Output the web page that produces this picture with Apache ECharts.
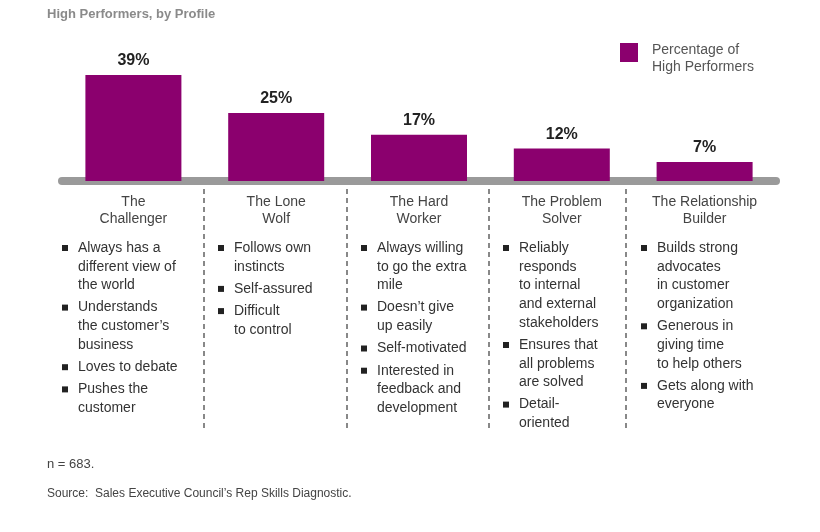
<!DOCTYPE html>
<html><head><meta charset="utf-8">
<script src="https://cdn.jsdelivr.net/npm/echarts@6/dist/echarts.min.js"></script>
<style>html,body{margin:0;padding:0;background:#fff}#c{width:820px;height:532px}</style>
</head><body><div id="c"></div>
<script>
const categories = ['The\nChallenger','The Lone\nWolf','The Hard\nWorker','The Problem\nSolver','The Relationship\nBuilder'];
const values = [39,25,17,12,7];
const bullets = [
  [['Always has a','different view of','the world'],['Understands','the customer’s','business'],['Loves to debate'],['Pushes the','customer']],
  [['Follows own','instincts'],['Self-assured'],['Difficult','to control']],
  [['Always willing','to go the extra','mile'],['Doesn’t give','up easily'],['Self-motivated'],['Interested in','feedback and','development']],
  [['Reliably','responds','to internal','and external','stakeholders'],['Ensures that','all problems','are solved'],['Detail-','oriented']],
  [['Builds strong','advocates','in customer','organization'],['Generous in','giving time','to help others'],['Gets along with','everyone']]
];
const FONT = '"Liberation Sans", Arial, sans-serif';
const chart = echarts.init(document.getElementById('c'));
const g = [];
g.push({type:'text',left:47,top:8,style:{text:'High Performers, by Profile',font:'bold 13px '+FONT,fill:'#8a8a8a'}});
g.push({type:'rect',shape:{x:620,y:43,width:18,height:19},style:{fill:'#8b006e'}});
g.push({type:'text',left:652,top:42,style:{text:'Percentage of\nHigh Performers',font:'14px '+FONT,fill:'#555',lineHeight:17}});
g.push({type:'text',left:47,top:458,style:{text:'n = 683.',font:'13px '+FONT,fill:'#444'}});
g.push({type:'text',left:47,top:488,style:{text:'Source:  Sales Executive Council’s Rep Skills Diagnostic.',font:'12px '+FONT,fill:'#444'}});
[204,347,489,626].forEach(x=>g.push({type:'line',shape:{x1:x,y1:189,x2:x,y2:432},style:{stroke:'#888',lineWidth:2,lineDash:[5,4]}}));
const colX=[62,218,361,503,641], LH=18.7;
bullets.forEach((col,ci)=>{
  let y=248;
  col.forEach(item=>{
    g.push({type:'rect',shape:{x:colX[ci],y:y-3,width:6,height:6},style:{fill:'#222'}});
    item.forEach((ln,li)=>g.push({type:'text',x:colX[ci]+16,y:y+li*LH,style:{text:ln,font:'14px '+FONT,fill:'#333',verticalAlign:'middle'}}));
    y+=item.length*LH+3.5;
  });
});
chart.setOption({
  animation:false,
  grid:{left:62,right:44,top:75,bottom:351},
  xAxis:{type:'category',data:categories,axisTick:{show:false},
    axisLine:{lineStyle:{color:'#9a9a9a',width:8}},
    axisLabel:{margin:13,fontSize:14,color:'#444',fontFamily:FONT,lineHeight:17}},
  yAxis:{type:'value',min:0,max:39,show:false},
  series:[{type:'bar',data:values,barWidth:96,itemStyle:{color:'#8b006e'},
    label:{show:true,position:'top',formatter:'{c}%',fontSize:16,fontWeight:'bold',color:'#222',fontFamily:FONT,distance:6}}],
  graphic:g
});
</script></body></html>
